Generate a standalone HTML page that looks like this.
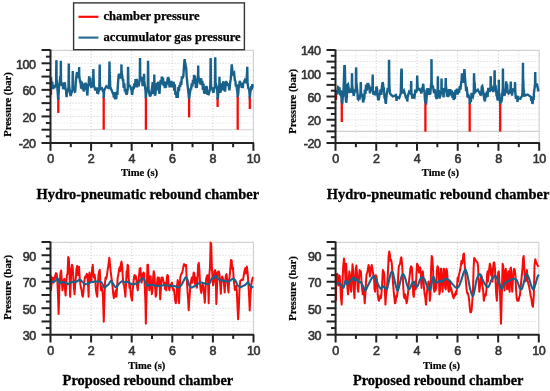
<!DOCTYPE html>
<html><head><meta charset="utf-8"><title>Pressure comparison</title>
<style>
html,body{margin:0;padding:0;background:#fff;}
body{width:550px;height:391px;overflow:hidden;}
svg{display:block;}
</style></head>
<body>
<svg width="550" height="391" viewBox="0 0 550 391">
<line x1="51.5" y1="136.36" x2="253.4" y2="136.36" stroke="#e4e4e4" stroke-width="1" stroke-dasharray="1.1 1.9"/>
<line x1="50.5" y1="129.71" x2="253.4" y2="129.71" stroke="#cfcfcf" stroke-width="1.1"/>
<line x1="51.5" y1="123.07" x2="253.4" y2="123.07" stroke="#e4e4e4" stroke-width="1" stroke-dasharray="1.1 1.9"/>
<line x1="51.5" y1="116.43" x2="253.4" y2="116.43" stroke="#d0d0d0" stroke-width="1" stroke-dasharray="1.1 1.9"/>
<line x1="51.5" y1="109.79" x2="253.4" y2="109.79" stroke="#e4e4e4" stroke-width="1" stroke-dasharray="1.1 1.9"/>
<line x1="51.5" y1="103.14" x2="253.4" y2="103.14" stroke="#d0d0d0" stroke-width="1" stroke-dasharray="1.1 1.9"/>
<line x1="51.5" y1="96.5" x2="253.4" y2="96.5" stroke="#e4e4e4" stroke-width="1" stroke-dasharray="1.1 1.9"/>
<line x1="51.5" y1="89.86" x2="253.4" y2="89.86" stroke="#d0d0d0" stroke-width="1" stroke-dasharray="1.1 1.9"/>
<line x1="51.5" y1="83.21" x2="253.4" y2="83.21" stroke="#e4e4e4" stroke-width="1" stroke-dasharray="1.1 1.9"/>
<line x1="51.5" y1="76.57" x2="253.4" y2="76.57" stroke="#d0d0d0" stroke-width="1" stroke-dasharray="1.1 1.9"/>
<line x1="51.5" y1="69.93" x2="253.4" y2="69.93" stroke="#e4e4e4" stroke-width="1" stroke-dasharray="1.1 1.9"/>
<line x1="51.5" y1="63.29" x2="253.4" y2="63.29" stroke="#d0d0d0" stroke-width="1" stroke-dasharray="1.1 1.9"/>
<line x1="51.5" y1="56.64" x2="253.4" y2="56.64" stroke="#e4e4e4" stroke-width="1" stroke-dasharray="1.1 1.9"/>
<line x1="70.79" y1="51" x2="70.79" y2="143" stroke="#e4e4e4" stroke-width="1" stroke-dasharray="1.1 1.9"/>
<line x1="91.08" y1="51" x2="91.08" y2="143" stroke="#d0d0d0" stroke-width="1" stroke-dasharray="1.1 1.9"/>
<line x1="111.37" y1="51" x2="111.37" y2="143" stroke="#e4e4e4" stroke-width="1" stroke-dasharray="1.1 1.9"/>
<line x1="131.66" y1="51" x2="131.66" y2="143" stroke="#d0d0d0" stroke-width="1" stroke-dasharray="1.1 1.9"/>
<line x1="151.95" y1="51" x2="151.95" y2="143" stroke="#e4e4e4" stroke-width="1" stroke-dasharray="1.1 1.9"/>
<line x1="172.24" y1="51" x2="172.24" y2="143" stroke="#d0d0d0" stroke-width="1" stroke-dasharray="1.1 1.9"/>
<line x1="192.53" y1="51" x2="192.53" y2="143" stroke="#e4e4e4" stroke-width="1" stroke-dasharray="1.1 1.9"/>
<line x1="212.82" y1="51" x2="212.82" y2="143" stroke="#d0d0d0" stroke-width="1" stroke-dasharray="1.1 1.9"/>
<line x1="233.11" y1="51" x2="233.11" y2="143" stroke="#e4e4e4" stroke-width="1" stroke-dasharray="1.1 1.9"/>
<polyline points="50.5,50.3 253.4,50.3 253.4,143" fill="none" stroke="#d2d2d2" stroke-width="1.2"/>
<line x1="336.5" y1="137.19" x2="539.2" y2="137.19" stroke="#e4e4e4" stroke-width="1" stroke-dasharray="1.1 1.9"/>
<line x1="335.5" y1="131.38" x2="539.2" y2="131.38" stroke="#cfcfcf" stroke-width="1.1"/>
<line x1="336.5" y1="125.56" x2="539.2" y2="125.56" stroke="#e4e4e4" stroke-width="1" stroke-dasharray="1.1 1.9"/>
<line x1="336.5" y1="119.75" x2="539.2" y2="119.75" stroke="#d0d0d0" stroke-width="1" stroke-dasharray="1.1 1.9"/>
<line x1="336.5" y1="113.94" x2="539.2" y2="113.94" stroke="#e4e4e4" stroke-width="1" stroke-dasharray="1.1 1.9"/>
<line x1="336.5" y1="108.12" x2="539.2" y2="108.12" stroke="#d0d0d0" stroke-width="1" stroke-dasharray="1.1 1.9"/>
<line x1="336.5" y1="102.31" x2="539.2" y2="102.31" stroke="#e4e4e4" stroke-width="1" stroke-dasharray="1.1 1.9"/>
<line x1="336.5" y1="96.5" x2="539.2" y2="96.5" stroke="#d0d0d0" stroke-width="1" stroke-dasharray="1.1 1.9"/>
<line x1="336.5" y1="90.69" x2="539.2" y2="90.69" stroke="#e4e4e4" stroke-width="1" stroke-dasharray="1.1 1.9"/>
<line x1="336.5" y1="84.88" x2="539.2" y2="84.88" stroke="#d0d0d0" stroke-width="1" stroke-dasharray="1.1 1.9"/>
<line x1="336.5" y1="79.06" x2="539.2" y2="79.06" stroke="#e4e4e4" stroke-width="1" stroke-dasharray="1.1 1.9"/>
<line x1="336.5" y1="73.25" x2="539.2" y2="73.25" stroke="#d0d0d0" stroke-width="1" stroke-dasharray="1.1 1.9"/>
<line x1="336.5" y1="67.44" x2="539.2" y2="67.44" stroke="#e4e4e4" stroke-width="1" stroke-dasharray="1.1 1.9"/>
<line x1="336.5" y1="61.62" x2="539.2" y2="61.62" stroke="#d0d0d0" stroke-width="1" stroke-dasharray="1.1 1.9"/>
<line x1="336.5" y1="55.81" x2="539.2" y2="55.81" stroke="#e4e4e4" stroke-width="1" stroke-dasharray="1.1 1.9"/>
<line x1="355.87" y1="51" x2="355.87" y2="143" stroke="#e4e4e4" stroke-width="1" stroke-dasharray="1.1 1.9"/>
<line x1="376.24" y1="51" x2="376.24" y2="143" stroke="#d0d0d0" stroke-width="1" stroke-dasharray="1.1 1.9"/>
<line x1="396.61" y1="51" x2="396.61" y2="143" stroke="#e4e4e4" stroke-width="1" stroke-dasharray="1.1 1.9"/>
<line x1="416.98" y1="51" x2="416.98" y2="143" stroke="#d0d0d0" stroke-width="1" stroke-dasharray="1.1 1.9"/>
<line x1="437.35" y1="51" x2="437.35" y2="143" stroke="#e4e4e4" stroke-width="1" stroke-dasharray="1.1 1.9"/>
<line x1="457.72" y1="51" x2="457.72" y2="143" stroke="#d0d0d0" stroke-width="1" stroke-dasharray="1.1 1.9"/>
<line x1="478.09" y1="51" x2="478.09" y2="143" stroke="#e4e4e4" stroke-width="1" stroke-dasharray="1.1 1.9"/>
<line x1="498.46" y1="51" x2="498.46" y2="143" stroke="#d0d0d0" stroke-width="1" stroke-dasharray="1.1 1.9"/>
<line x1="518.83" y1="51" x2="518.83" y2="143" stroke="#e4e4e4" stroke-width="1" stroke-dasharray="1.1 1.9"/>
<polyline points="335.5,50.3 539.2,50.3 539.2,143" fill="none" stroke="#d2d2d2" stroke-width="1.2"/>
<line x1="51.5" y1="328.08" x2="253.5" y2="328.08" stroke="#e4e4e4" stroke-width="1" stroke-dasharray="1.1 1.9"/>
<line x1="51.5" y1="321.46" x2="253.5" y2="321.46" stroke="#d0d0d0" stroke-width="1" stroke-dasharray="1.1 1.9"/>
<line x1="51.5" y1="314.84" x2="253.5" y2="314.84" stroke="#e4e4e4" stroke-width="1" stroke-dasharray="1.1 1.9"/>
<line x1="51.5" y1="308.21" x2="253.5" y2="308.21" stroke="#d0d0d0" stroke-width="1" stroke-dasharray="1.1 1.9"/>
<line x1="51.5" y1="301.59" x2="253.5" y2="301.59" stroke="#e4e4e4" stroke-width="1" stroke-dasharray="1.1 1.9"/>
<line x1="51.5" y1="294.97" x2="253.5" y2="294.97" stroke="#d0d0d0" stroke-width="1" stroke-dasharray="1.1 1.9"/>
<line x1="51.5" y1="288.35" x2="253.5" y2="288.35" stroke="#e4e4e4" stroke-width="1" stroke-dasharray="1.1 1.9"/>
<line x1="51.5" y1="281.73" x2="253.5" y2="281.73" stroke="#d0d0d0" stroke-width="1" stroke-dasharray="1.1 1.9"/>
<line x1="51.5" y1="275.11" x2="253.5" y2="275.11" stroke="#e4e4e4" stroke-width="1" stroke-dasharray="1.1 1.9"/>
<line x1="51.5" y1="268.49" x2="253.5" y2="268.49" stroke="#d0d0d0" stroke-width="1" stroke-dasharray="1.1 1.9"/>
<line x1="51.5" y1="261.86" x2="253.5" y2="261.86" stroke="#e4e4e4" stroke-width="1" stroke-dasharray="1.1 1.9"/>
<line x1="51.5" y1="255.24" x2="253.5" y2="255.24" stroke="#d0d0d0" stroke-width="1" stroke-dasharray="1.1 1.9"/>
<line x1="51.5" y1="248.62" x2="253.5" y2="248.62" stroke="#e4e4e4" stroke-width="1" stroke-dasharray="1.1 1.9"/>
<line x1="70.8" y1="243" x2="70.8" y2="334.7" stroke="#e4e4e4" stroke-width="1" stroke-dasharray="1.1 1.9"/>
<line x1="91.1" y1="243" x2="91.1" y2="334.7" stroke="#d0d0d0" stroke-width="1" stroke-dasharray="1.1 1.9"/>
<line x1="111.4" y1="243" x2="111.4" y2="334.7" stroke="#e4e4e4" stroke-width="1" stroke-dasharray="1.1 1.9"/>
<line x1="131.7" y1="243" x2="131.7" y2="334.7" stroke="#d0d0d0" stroke-width="1" stroke-dasharray="1.1 1.9"/>
<line x1="152" y1="243" x2="152" y2="334.7" stroke="#e4e4e4" stroke-width="1" stroke-dasharray="1.1 1.9"/>
<line x1="172.3" y1="243" x2="172.3" y2="334.7" stroke="#d0d0d0" stroke-width="1" stroke-dasharray="1.1 1.9"/>
<line x1="192.6" y1="243" x2="192.6" y2="334.7" stroke="#e4e4e4" stroke-width="1" stroke-dasharray="1.1 1.9"/>
<line x1="212.9" y1="243" x2="212.9" y2="334.7" stroke="#d0d0d0" stroke-width="1" stroke-dasharray="1.1 1.9"/>
<line x1="233.2" y1="243" x2="233.2" y2="334.7" stroke="#e4e4e4" stroke-width="1" stroke-dasharray="1.1 1.9"/>
<polyline points="50.5,242.3 253.5,242.3 253.5,334.7" fill="none" stroke="#d2d2d2" stroke-width="1.2"/>
<line x1="336.6" y1="328.08" x2="538.8" y2="328.08" stroke="#e4e4e4" stroke-width="1" stroke-dasharray="1.1 1.9"/>
<line x1="336.6" y1="321.46" x2="538.8" y2="321.46" stroke="#d0d0d0" stroke-width="1" stroke-dasharray="1.1 1.9"/>
<line x1="336.6" y1="314.84" x2="538.8" y2="314.84" stroke="#e4e4e4" stroke-width="1" stroke-dasharray="1.1 1.9"/>
<line x1="336.6" y1="308.21" x2="538.8" y2="308.21" stroke="#d0d0d0" stroke-width="1" stroke-dasharray="1.1 1.9"/>
<line x1="336.6" y1="301.59" x2="538.8" y2="301.59" stroke="#e4e4e4" stroke-width="1" stroke-dasharray="1.1 1.9"/>
<line x1="336.6" y1="294.97" x2="538.8" y2="294.97" stroke="#d0d0d0" stroke-width="1" stroke-dasharray="1.1 1.9"/>
<line x1="336.6" y1="288.35" x2="538.8" y2="288.35" stroke="#e4e4e4" stroke-width="1" stroke-dasharray="1.1 1.9"/>
<line x1="336.6" y1="281.73" x2="538.8" y2="281.73" stroke="#d0d0d0" stroke-width="1" stroke-dasharray="1.1 1.9"/>
<line x1="336.6" y1="275.11" x2="538.8" y2="275.11" stroke="#e4e4e4" stroke-width="1" stroke-dasharray="1.1 1.9"/>
<line x1="336.6" y1="268.49" x2="538.8" y2="268.49" stroke="#d0d0d0" stroke-width="1" stroke-dasharray="1.1 1.9"/>
<line x1="336.6" y1="261.86" x2="538.8" y2="261.86" stroke="#e4e4e4" stroke-width="1" stroke-dasharray="1.1 1.9"/>
<line x1="336.6" y1="255.24" x2="538.8" y2="255.24" stroke="#d0d0d0" stroke-width="1" stroke-dasharray="1.1 1.9"/>
<line x1="336.6" y1="248.62" x2="538.8" y2="248.62" stroke="#e4e4e4" stroke-width="1" stroke-dasharray="1.1 1.9"/>
<line x1="355.92" y1="243" x2="355.92" y2="334.7" stroke="#e4e4e4" stroke-width="1" stroke-dasharray="1.1 1.9"/>
<line x1="376.24" y1="243" x2="376.24" y2="334.7" stroke="#d0d0d0" stroke-width="1" stroke-dasharray="1.1 1.9"/>
<line x1="396.56" y1="243" x2="396.56" y2="334.7" stroke="#e4e4e4" stroke-width="1" stroke-dasharray="1.1 1.9"/>
<line x1="416.88" y1="243" x2="416.88" y2="334.7" stroke="#d0d0d0" stroke-width="1" stroke-dasharray="1.1 1.9"/>
<line x1="437.2" y1="243" x2="437.2" y2="334.7" stroke="#e4e4e4" stroke-width="1" stroke-dasharray="1.1 1.9"/>
<line x1="457.52" y1="243" x2="457.52" y2="334.7" stroke="#d0d0d0" stroke-width="1" stroke-dasharray="1.1 1.9"/>
<line x1="477.84" y1="243" x2="477.84" y2="334.7" stroke="#e4e4e4" stroke-width="1" stroke-dasharray="1.1 1.9"/>
<line x1="498.16" y1="243" x2="498.16" y2="334.7" stroke="#d0d0d0" stroke-width="1" stroke-dasharray="1.1 1.9"/>
<line x1="518.48" y1="243" x2="518.48" y2="334.7" stroke="#e4e4e4" stroke-width="1" stroke-dasharray="1.1 1.9"/>
<polyline points="335.6,242.3 538.8,242.3 538.8,334.7" fill="none" stroke="#d2d2d2" stroke-width="1.2"/>
<g fill="none" stroke-linejoin="round" stroke-linecap="butt">
<g stroke="#f60b0b" stroke-width="2.3"><line x1="51" y1="84" x2="51" y2="95"/><line x1="58.3" y1="98" x2="58.3" y2="112.9"/><line x1="103.7" y1="97" x2="103.7" y2="129.7"/><line x1="145.9" y1="97" x2="145.9" y2="129.7"/><line x1="189.1" y1="97" x2="189.1" y2="117.4"/><line x1="217.6" y1="97" x2="217.6" y2="107"/><line x1="237.7" y1="96" x2="237.7" y2="129.7"/><line x1="249.8" y1="96" x2="249.8" y2="109"/></g>
<polyline points="50.73,78.01 51,85 51.01,77.27 51.3,81.47 51.65,84.86 51.99,84.34 52.34,81.75 52.68,86.07 53.14,88.95 53.6,86.07 54.78,86.92 55.95,84.34 56.09,83.77 56.18,78.01 56.27,68.81 56.36,60.18 56.46,61.9 56.55,78.01 57.75,92.97 58.21,99.88 58.3,99 58.67,92.97 59.13,84.92 59.59,83.77 60.14,77.78 60.69,78.01 60.78,66.51 60.85,60.75 60.92,66.51 61.01,81.47 61.62,85.79 62.23,84.92 62.52,82.67 62.81,83.77 63.1,89.09 63.38,88.37 63.67,84.75 63.96,84.34 64.25,86.57 64.54,83.19 64.82,82.35 65.11,84.92 65.4,88.99 65.69,89.52 65.97,88.48 66.26,92.97 66.55,97.24 66.84,93.55 68.52,87.22 68.63,78.01 68.72,66.51 68.79,63.63 68.86,66.51 68.95,83.77 70.17,94.13 70.63,95.85 72.48,89.52 72.59,81.47 72.71,74.56 72.82,71.11 72.91,75.71 73.03,84.92 73.12,89.52 74.01,88.8 74.89,91.82 75.18,91.69 75.47,87.22 76.16,78.01 76.73,73.41 77.19,72.26 77.77,78.01 78.99,73.41 79.08,68.81 79.15,67.08 79.24,75.71 80.19,82.62 80.47,80.39 80.76,84.92 81.11,88.69 81.45,83.77 81.8,81.69 82.14,86.07 82.54,89.34 82.95,87.22 83.23,83.94 83.52,89.52 83.59,90.29 83.88,91.35 84.18,89.12 84.47,83.28 84.76,85.59 85.06,87.37 85.35,84.41 85.65,82.77 85.94,85 86.24,88.91 86.53,89.12 86.82,89.05 87.12,93.82 87.41,95.42 87.71,89.12 88,84.72 88.29,84.41 88.59,85.89 88.88,80.88 89.18,76.29 89.47,78.53 89.76,81.73 90.06,79.71 90.35,77.74 90.65,82.06 90.94,86.69 91.24,87.94 92.14,85.09 93.05,85.59 93.16,82.06 93.26,75 93.35,69.12 93.45,71.47 93.54,76.18 93.64,78.53 93.75,82.06 93.87,85.59 95.2,89.47 96.53,89.12 96.82,87.34 97.12,92.65 98.21,93.08 99.31,87.94 99.42,83.24 99.56,73.82 99.71,64.41 99.78,69.12 99.85,78.53 99.94,83.24 100.04,85.59 100.13,86.18 100.25,86.76 100.36,89.12 101.98,88.44 103.59,92.65 103.7,98 103.88,94.73 104.18,90.29 106.35,86.26 108.53,87.94 108.65,87.94 108.76,87.94 108.88,85.59 109,83.24 109.12,80.88 109.24,78.53 109.35,70.29 109.47,61.47 109.56,65.59 109.64,72.65 109.73,75 109.82,76.18 109.94,78.53 110.06,80.88 110.18,86.76 113.59,95 113.88,97.69 114.18,95.59 114.47,92 114.76,96.18 115.06,99.48 115.35,95.59 115.65,93.65 115.94,96.18 116.24,99.11 116.53,95.59 116.82,91.63 117.12,93.82 117.41,95.01 117.71,87.94 117.71,87.94 118.18,80.88 118.65,75 119.12,73.82 119.59,76.18 120.06,78.53 121.28,72.65 121.38,65.59 121.47,64.41 121.56,71.47 122.41,77.35 122.88,80.88 123.18,78.96 123.47,84.41 123.76,87.95 124.06,86.76 124.35,83.21 124.65,88.53 124.94,91.27 125.24,90.29 125.53,88.72 125.82,92.65 126.78,94.65 127.73,89.12 127.85,84.41 127.96,75 128.06,66.76 128.15,70.29 128.25,76.18 128.34,80.88 128.44,83.24 128.55,84.41 128.67,85.59 130.13,85.99 131.59,90.29 132.06,95 132.53,91.47 133,87.94 133.47,86.76 133.76,89.14 134.06,85.59 134.35,83.38 134.65,84.41 134.94,87.33 135.24,83.24 135.53,79.15 135.82,82.65 136.12,85.57 136.41,82.06 136.71,78.81 137,83.82 137.29,87.15 137.59,85.59 137.88,80.83 138.18,83.24 138.99,84.17 139.8,78.53 139.89,69.12 139.99,59.71 140.06,57.94 140.13,65.59 140.2,72.65 140.29,76.18 140.39,78.53 141.34,77.05 142.29,82.06 142.59,86.1 142.88,84.41 143.41,77.45 143.94,78.53 144.06,73.82 144.15,76.18 144.25,80.88 145.47,90.29 145.82,97.35 145.9,98 146.18,93.82 147.78,86.76 147.87,78.53 147.96,69.12 148.06,60.88 148.13,64.41 148.22,72.65 148.34,80.88 148.44,87.94 148.55,89.71 148.67,90.29 149.95,96.39 151.24,93.82 152.46,84.41 152.55,83.24 152.65,82.06 152.74,87.94 153.11,87.96 153.47,93.82 154.22,82.06 154.29,74.41 154.36,78.53 154.46,90.29 154.96,95.55 155.47,93.82 155.94,87.94 156.41,83.24 156.88,87.94 157.24,90.29 157.71,83.24 158.18,82.06 158.65,83.82 159.12,90.29 159.47,93.82 159.94,86.76 160.41,82.06 160.71,79.79 161,80.88 161.29,84.19 161.59,80.29 161.88,76.68 162.18,79.94 162.47,84.3 162.76,79.71 163.06,77.5 163.35,83.24 163.65,85.88 163.94,83.82 164.24,81.46 164.53,84.41 164.82,88.04 165.12,84.65 165.41,83.26 165.71,85 166,87.59 166.29,84.41 166.59,81.82 166.88,83.24 167.18,83.32 167.47,79.71 168.06,77.35 168.65,78.53 168.94,79.21 169.24,83.24 169.53,87.51 169.82,84.18 170.12,82.41 170.41,84.41 170.71,86.36 171,83.82 171.29,80.86 171.59,83.24 171.88,87.35 172.18,83.24 172.47,81.61 172.76,83.47 173.06,86.79 173.35,84.41 173.65,81.85 173.94,85.59 174.24,90.62 174.53,87.35 174.82,84.28 175.12,89.12 175.41,94.97 175.71,92.65 176,91.49 176.29,95 176.59,97.86 176.88,95.24 177.18,92.54 177.47,95 177.76,97.98 178.06,92.65 178.35,87.1 178.65,90.29 178.94,91.07 179.24,87.94 179.53,84.74 179.82,85.59 180.12,87.2 180.41,84.41 180.71,81.62 181,83.24 181.29,85.01 181.59,80.88 181.88,76.44 182.18,78.53 182.76,77.35 183.35,76.18 183.82,69.12 184.29,62.06 184.65,59.12 185,62.06 185.35,66.76 185.35,63.24 185.71,66.18 186.18,67.71 186.65,76.18 187.12,80.88 187.59,85.59 188.06,89.12 188.53,93.82 189,97.94 189.1,98 189.47,96.18 189.94,92.65 190.41,90.29 190.88,87.94 191.18,89.05 191.47,85.59 191.76,83.49 192.06,84.41 192.35,86.58 192.65,83.24 192.94,79.75 193.24,81.47 193.53,83.79 193.82,79.71 194.12,74.76 194.41,78.53 195,77.94 195.59,82.06 195.88,87.98 196.18,86.76 196.47,84.31 196.76,87.94 197.24,83.24 198.08,73.82 198.18,65.59 198.25,69.12 198.32,76.18 199.35,80.88 199.82,82.06 200.29,81.47 200.59,84.53 200.88,80.88 201.18,78.24 201.47,82.65 201.76,85.19 202.06,84.41 202.35,80.8 202.65,85.59 202.94,90.02 203.24,86.76 203.53,83.52 203.82,88.53 204.12,93.31 204.41,90.29 204.71,89.38 205,93.82 205.47,90.29 205.94,87.94 206.41,86.18 206.88,87.94 207.35,93.82 208.72,94.17 210.08,89.12 210.18,85.59 210.27,85 210.36,83.24 210.46,78.53 210.55,66.76 210.65,57.94 210.74,64.41 210.84,73.82 210.93,82.06 211.02,87.94 212.01,87.9 213,91.47 213.35,92.65 214.95,85.59 215.05,76.18 215.14,64.41 215.24,57.35 215.33,64.41 215.42,72.65 215.52,82.06 217.12,89.12 217.59,97.35 217.6,98 217.94,97.94 218.41,91.47 219.35,84.41 219.45,78.53 219.47,76.79 219.57,82.09 219.66,87.98 220.27,92.56 220.88,90.34 221.36,85.62 221.83,83.27 222.3,90.34 222.77,85.62 223.24,81.5 223.71,82.68 224.18,85.62 224.65,90.34 225.01,91.51 225.48,86.8 225.95,83.27 226.24,80.99 226.54,82.09 227.01,83.27 227.48,84.45 227.78,85.85 228.07,83.86 228.54,84.45 229.01,87.98 229.37,90.34 229.84,85.62 230.31,81.5 230.78,79.15 231.25,72.67 231.72,64.42 232.07,67.96 232.55,72.67 233.02,73.85 233.49,73.26 234.08,72.67 234.55,77.38 235.02,80.91 235.31,80.26 235.61,83.86 235.9,86.73 236.2,85.62 236.49,84.28 236.79,87.98 237.26,90.34 237.7,97 237.73,96.22 238.08,95.05 238.55,89.16 239.02,84.45 239.32,84.93 239.61,82.09 239.91,80.88 240.2,82.68 240.5,85.22 240.79,83.86 241.08,82.94 241.38,85.62 241.67,87.92 241.97,85.04 242.26,83.16 242.56,84.45 242.85,88.27 243.15,83.86 244.85,80.22 246.56,83.27 246.68,79.73 246.8,76.2 246.92,74.43 247.03,72.67 247.15,70.31 247.27,66.78 247.36,72.67 247.46,78.56 247.55,83.27 248.35,88.16 249.15,89.16 249.62,95.05 249.8,97 249.98,96.81 250.45,91.51 250.92,89.16 251.21,86.02 251.51,87.39 251.8,89.64 252.1,86.8 252.39,84.09 252.69,86.57 253.16,86.21" stroke="#18618a" stroke-width="2.4" stroke-linejoin="miter" stroke-miterlimit="2.5"/>
<g stroke="#f60b0b" stroke-width="2.3"><line x1="336" y1="92" x2="336" y2="100"/><line x1="341.8" y1="100" x2="341.8" y2="122"/><line x1="425.4" y1="102" x2="425.4" y2="131.6"/><line x1="469.7" y1="103" x2="469.7" y2="131.6"/><line x1="500.2" y1="103" x2="500.2" y2="131.6"/></g>
<polyline points="336,93 336.12,93.29 336.53,90.11 336.94,92.71 337.35,94.44 337.76,90.94 338.12,87.38 338.47,87.65 338.82,92.33 339.18,88.82 339.53,88.66 339.88,91.53 340.24,95.42 340.59,93.29 340.94,90.28 341.29,95.65 341.76,101.53 341.8,101 342.24,103.88 342.82,96.82 343.12,96.21 343.41,92.12 343.88,81.53 344.35,66.24 344.82,66.24 345.18,81.53 345.65,96.82 346.12,102.71 346.59,100.35 347.06,92.12 347.53,85.06 348,84.47 348.47,86.82 348.94,89.76 349.41,92.12 349.88,92.71 350.18,88.66 350.47,90.94 351.14,92.53 351.81,87.41 351.91,79.18 352,73.29 352.09,74.47 352.16,85.06 353.29,93.29 353.76,95.65 354.24,93.29 355.04,90.49 355.84,90.94 355.93,85.06 356.02,72.12 356.12,67.41 356.21,68.59 356.31,81.53 357.53,93.29 357.82,98.87 358.12,99.18 358.41,94.98 358.71,98 359.61,98.5 360.52,93.29 360.64,86.24 360.73,82.71 360.82,82.12 360.92,85.06 361.01,90.94 361.11,95.65 361.96,93.74 362.82,99.18 363.12,102.32 363.41,101.53 363.71,98.14 364,99.18 364.29,98.66 364.59,94.47 364.88,89.69 365.18,90.94 365.47,94.04 365.76,88.59 366.12,84.73 366.47,87.41 366.82,90.65 367.18,86.24 367.65,83 368.12,85.06 368.24,82.71 368.59,88.8 368.94,87.41 369.29,87.08 369.65,90.35 370,93.31 370.35,91.53 371.36,87.12 372.38,89.76 372.52,83.88 372.61,78 372.71,74.47 372.8,81.53 372.89,89.76 373.51,94.91 374.12,92.71 374.59,93.29 374.94,91.12 375.29,94.47 375.65,95.06 376,92.12 376.35,87.46 376.71,87.41 377.18,89.76 377.65,95.65 378.12,99.18 378.59,100.35 379.06,98 379.53,93.29 379.88,94.54 380.24,91.53 380.59,89.48 380.94,92.12 381.29,94.87 381.65,89.76 382.12,85.06 382.59,82.12 383.06,83.88 383.53,89.76 383.88,89.43 384.24,93.29 384.59,98.63 384.94,95.65 385.41,101.53 385.88,103.88 386.35,96.82 387.48,89.74 388.61,90.94 388.75,88 388.89,81.53 388.99,65.06 389.06,59.76 389.13,67.41 389.22,75.65 389.32,80.35 389.41,85.06 389.51,87.41 389.65,89.76 389.79,91.53 389.93,92.71 390.07,93.29 390.21,93.88 392.87,96.43 395.53,95.65 395.88,93.89 396.24,97.41 396.53,100.98 396.82,98.59 397.12,96.43 397.41,97.41 399.12,98.13 400.82,93.29 400.94,87.41 401.06,81.53 401.15,73.29 401.29,72.12 401.44,69.76 401.53,68.59 401.65,69.76 401.79,70.94 401.81,87.41 401.93,89.18 402.07,90.35 402.21,93.29 403.93,90.55 405.65,96.24 406,98.66 406.35,97.41 406.71,95.59 407.06,100.35 407.35,100.45 407.65,96.82 409.12,91.82 410.59,93.29 410.71,90.94 410.82,90.35 410.94,89.76 411.06,86.24 411.18,80.94 411.27,85.06 411.36,90.94 411.48,93.29 412.45,98.66 413.41,95.65 413.76,94.13 414.12,96.82 414.47,97.17 414.82,94.47 415.18,91.25 415.53,91.53 416.26,92.59 416.99,87.41 417.08,79.18 417.18,75.65 417.27,78 417.36,81.53 417.51,85.06 417.65,86.82 417.79,89.76 419.36,89.09 420.94,91.53 421.29,93.58 421.65,92.12 422,87.36 422.35,88.59 422.65,91.38 422.94,85.65 423.24,83.77 423.53,87.41 423.82,91.58 424.12,90.35 424.41,89.58 424.71,95.65 425,100.37 425.29,101.53 425.4,103 425.59,98.88 425.88,102.71 426.18,102.96 426.47,99.18 427.06,92.12 427.41,88.2 427.76,90.94 428.12,95.02 428.47,90.35 428.82,88.4 429.18,89.76 429.47,94.69 429.76,93.29 430.24,94.47 431.36,81.53 431.46,60.35 431.53,59.18 431.6,69.76 431.69,81.53 431.81,87.41 432.73,85.56 433.65,90.35 434,93.18 434.35,92.12 434.65,89.52 434.94,91.53 434.94,89.76 435.41,93.29 435.88,96.82 436.73,98.96 437.58,92.12 437.69,87.41 437.79,79.18 437.88,76.24 437.98,81.53 438.07,92.12 438.68,89.98 439.29,96.82 439.65,98.59 440.12,93.29 440.73,93.98 441.34,90.94 441.44,85.06 441.53,78.59 441.62,81.53 441.72,90.94 442.45,88.21 443.18,92.71 443.53,97.35 443.88,93.29 444.71,88.73 445.53,88.59 445.67,80.35 445.76,78 445.86,85.06 446.71,92.12 447,96.63 447.29,94.47 447.59,93.43 447.88,95.65 448.24,97.07 448.59,93.29 448.94,89.18 449.29,92.12 449.65,95.68 450,92.71 450.35,89.18 450.71,93.29 451.06,94.76 451.41,92.71 451.76,90.46 452.12,93.29 452.47,97.97 452.82,94.47 453.12,92.1 453.41,96.24 453.71,99.97 454,98 454.29,94.12 454.59,95.65 454.88,98.93 455.18,93.29 455.53,89.78 455.88,92.71 456.24,94.26 456.59,92.71 456.94,88.51 457.29,92.12 457.65,94.6 458,92.12 458.35,89.02 458.71,91.53 459.06,92.79 459.41,89.76 459.76,86.05 460.12,88 460.47,89.59 460.82,86.24 461.18,82.12 461.53,81.53 462,73.29 462.47,78 462.94,82.71 464.16,75.65 464.26,70.94 464.35,69.18 464.45,69.76 465.29,81.53 465.76,86.24 466.12,91.09 466.47,89.18 466.82,88.84 467.18,92.12 467.53,97.44 467.88,95.06 468.24,94.95 468.59,98 468.65,95.65 469.12,97.41 469.59,98.59 469.7,104 470.06,99.18 470.53,98.59 470.88,102.14 471.24,98 471.59,92.9 471.94,95.65 472.86,96.87 473.78,92.12 473.87,86.24 473.96,78 474.06,73.29 474.15,75.65 474.25,80.35 474.34,81.53 474.48,82.12 474.62,83.29 474.76,85.06 474.91,87.41 475.05,89.18 475.19,92.12 477.8,89.67 480.41,94.47 480.88,95.65 481.35,92.12 481.82,86.82 482.29,86.24 482.76,88.59 483.24,92.12 483.71,95.65 484.18,98.59 484.65,100.35 484.94,101.42 485.24,98 485.53,93.11 485.82,95.65 486.18,97.54 486.53,93.88 486.88,91.4 487.24,93.29 487.59,96.8 487.94,91.53 488.29,87.94 488.65,89.76 489.56,91.8 490.48,88.59 490.58,83.88 490.67,76.82 490.76,76.24 490.86,83.88 491.71,90.94 492,86.27 492.29,89.76 493.29,91.78 494.29,88.59 494.44,81.53 494.55,72.12 494.65,70.35 494.74,75.65 494.84,86.24 495.51,85.09 496.18,90.94 496.47,95.31 496.76,95.65 497.06,93.09 497.35,98.59 497.82,100.35 498.67,90.94 498.76,79.76 498.86,83.88 498.95,92.12 499.07,96.82 499.92,100.86 500.2,104 500.76,100.35 501.24,102.71 501.53,99.88 501.77,93.34 501.82,100.35 502.29,94.82 502.8,87.45 502.87,75.67 502.94,68.6 503.02,75.67 503.11,85.09 503.2,88.62 504.71,95.69 505.01,91.32 505.3,90.98 505.59,92.96 505.89,86.27 506.18,81.22 506.48,85.09 506.77,87.82 507.07,83.91 507.54,90.98 508.01,93.34 508.36,91.8 508.72,93.34 509.63,92.66 510.55,88.62 510.67,83.91 510.84,81.56 510.93,88.62 511.35,88.85 511.78,93.34 512.07,95.71 512.37,92.75 513.51,88.53 514.65,90.98 514.79,88.62 514.91,86.27 515.08,82.15 515.17,87.45 515.27,92.16 515.94,98.91 516.61,96.87 516.9,95.48 517.2,99.22 517.49,101.74 517.79,100.4 518.08,96.04 518.37,98.05 520.28,98.78 522.19,95.69 522.33,93.92 522.47,92.16 522.61,87.45 522.76,81.56 522.9,69.78 522.97,62.71 523.04,72.13 523.13,79.2 523.23,80.38 523.35,81.56 523.46,86.27 523.58,89.8 523.7,89.8 523.84,90.39 523.98,92.16 524.12,93.34 524.26,94.51 524.41,95.69 527.63,94.52 530.86,96.87 531.21,100.92 531.57,98.64 531.86,96.52 532.16,101.58 532.45,103.87 532.74,102.76 533.04,98.14 533.33,99.22 533.63,99.89 533.92,93.34 535.05,83.91 535.15,74.49 535.22,72.13 535.29,76.85 535.38,81.56 535.5,85.09 535.62,86.86 536.71,83.65 537.81,88.04 538.1,91.27 538.4,89.21" stroke="#18618a" stroke-width="2.4" stroke-linejoin="miter" stroke-miterlimit="2.5"/>
<polyline points="50.53,275.02 50.92,290.36 51.56,283.97 52.2,277.58 52.84,278.85 53.48,282.69 54.12,277.58 54.75,278.85 55.39,275.02 56.03,273.1 56.67,273.74 57.31,280.13 57.95,294.2 58.21,300.59 58.59,314.02 58.97,303.15 59.23,290.36 59.87,280.13 60.51,272.46 61.15,270.54 61.79,280.13 62.43,290.36 63.07,285.25 63.71,280.13 64.35,278.85 64.98,289.08 65.62,295.48 66.26,283.97 66.9,275.02 67.54,273.74 68.18,257.12 68.82,258.39 69.46,271.18 70.1,296.76 70.74,283.97 71.38,268.62 72.02,264.79 72.66,267.35 73.3,277.58 73.94,287.81 74.58,294.2 75.21,283.97 75.85,277.58 76.49,268.62 77.13,266.07 77.77,275.02 78.41,268.62 79.05,266.71 79.69,277.58 80.33,283.97 80.97,287.81 81.61,290.36 82.25,295.48 82.89,296.76 83.53,290.36 84.17,283.97 84.81,277.58 85.45,276.3 86.08,277.58 86.72,273.74 87.36,275.02 88,283.97 88.64,296.76 88.92,277.58 89.56,272.46 90.2,281.41 90.84,275.02 91.48,280.13 92.12,268.62 92.75,264.79 93.39,273.74 94.03,277.58 94.67,275.02 95.31,280.13 95.95,290.36 96.59,294.2 97.23,296.76 97.87,283.97 98.51,275.02 99.15,271.18 99.79,269.9 100.43,283.97 101.07,290.36 101.71,286.53 102.35,290.36 102.98,296.76 103.37,309.54 103.75,321.69 104.14,309.54 104.9,283.97 105.54,277.58 106.18,278.85 106.82,276.3 107.46,271.18 108.1,267.35 108.74,262.23 109.38,257.75 110.02,264.79 110.66,271.18 111.3,276.3 111.94,281.41 112.58,286.53 113.21,294.2 113.85,298.04 114.49,296.76 115.13,292.92 115.77,290.36 116.41,296.76 117.05,287.81 117.69,277.58 118.33,275.02 118.97,269.9 119.61,267.35 120.25,271.18 120.89,263.51 121.53,261.59 122.17,266.07 122.81,277.58 123.45,283.97 124.08,285.25 124.72,290.36 125.36,296.76 126,283.97 126.64,271.18 126.92,277.58 127.56,264.79 128.2,266.07 128.84,280.13 129.48,287.81 130.12,283.97 130.75,294.2 131.39,298.04 132.03,300.59 132.67,290.36 133.31,283.97 133.95,277.58 134.59,275.02 135.23,278.85 135.87,276.3 136.51,280.13 137.15,286.53 137.79,290.36 138.43,282.69 139.07,275.02 139.71,268.62 140.35,267.98 140.98,275.02 141.62,282.69 142.26,277.58 142.9,273.74 143.54,272.46 144.18,273.74 144.82,287.81 145.46,303.15 145.84,323.61 146.23,305.71 146.74,290.36 147.38,264.79 148.02,264.79 148.66,277.58 149.3,290.36 149.94,281.41 150.58,276.3 151.21,283.97 151.85,294.2 152.49,290.36 153.13,277.58 153.77,271.18 154.41,275.02 155.05,285.25 155.69,296.76 156.33,294.2 156.97,283.97 157.61,277.58 158.25,283.97 158.89,277.58 159.53,281.41 160.17,299.31 160.81,290.36 161.45,277.58 162.08,280.13 162.72,277.58 163.36,281.41 164,283.97 164.64,282.69 164.92,289.08 165.56,283.97 166.2,290.36 166.84,277.58 167.48,275.02 168.12,276.3 168.75,287.81 169.39,290.36 170.03,285.25 170.67,286.53 171.31,283.97 171.95,282.69 172.59,287.81 173.23,290.36 173.87,289.08 174.51,294.2 175.15,300.59 175.79,303.15 176.43,300.59 177.07,285.25 177.71,280.13 178.35,282.69 178.98,303.15 179.62,290.36 180.26,277.58 180.9,275.02 181.54,273.74 182.18,272.46 182.82,269.9 183.46,266.07 184.1,264.15 184.74,264.79 185.38,266.07 186.02,264.79 186.66,277.58 187.3,287.81 187.94,296.76 188.32,303.15 188.7,310.18 189.09,303.15 189.85,292.92 190.49,283.97 191.13,280.13 191.77,277.58 192.41,282.69 193.05,277.58 193.69,272.46 194.33,273.74 194.97,283.97 195.61,277.58 196.25,285.25 196.89,287.81 197.53,277.58 198.17,264.79 198.81,262.87 199.45,271.18 200.08,283.97 200.72,290.36 201.36,292.92 202,287.81 202.64,283.97 203.6,287.3 204.8,302.7 206.1,279 206.8,276.5 207.4,275.2 208,280.4 208.7,303.3 209.3,275.2 210,267.6 210.6,242.5 211.2,244.6 211.9,267.6 212.5,277.8 213.1,285.5 213.8,282 214.4,271.4 215.1,270.1 215.7,272.7 216.3,304 217,288 217.6,272.7 218.3,271.4 218.9,271.4 219.5,275.2 220.2,284.2 220.8,293.7 221.5,280.4 222.1,276.5 222.7,277.8 223.4,280.4 224,284.2 224.7,292.5 225.3,280.4 225.9,275.2 226.6,274 227.2,280.4 227.9,286.8 228.5,292.5 229.1,280.4 229.8,275.2 230.4,267.6 231,260 231.7,260.6 232.3,268.9 233,267.6 233.6,277.8 234.2,284.2 234.9,290 235.5,289 236.2,286 236.8,291 237.4,303.9 238.1,319.3 238.7,310.4 239.4,291.2 240.2,281 240.8,280.4 241.5,279.6 242.3,280.1 243.1,279.6 243.8,275 244.6,270.4 245.4,268.1 246.2,273.5 246.9,266.5 247.7,273.5 248.5,285.8 249.2,298 249.7,310.4 250.3,298 251.1,285.8 251.8,281.2 252.6,278 253.4,277.3" stroke="#f60b0b" stroke-width="2.0"/>
<path d="M50.7,281.3 C51.18,281.4 52.73,282.08 53.6,281.9 C54.47,281.72 55.23,280.78 55.9,280.2 C56.57,279.62 57.02,277.93 57.6,278.4 C58.18,278.87 58.72,282.42 59.4,283 C60.08,283.58 60.93,281.98 61.7,281.9 C62.47,281.82 63.23,282.32 64,282.5 C64.77,282.68 65.63,282.72 66.3,283 C66.97,283.28 67.33,284.28 68,284.2 C68.67,284.12 69.53,282.88 70.3,282.5 C71.07,282.12 71.83,282 72.6,281.9 C73.37,281.8 74.13,282 74.9,281.9 C75.67,281.8 76.43,281.68 77.2,281.3 C77.97,280.92 78.82,279.7 79.5,279.6 C80.18,279.5 80.62,280.13 81.3,280.7 C81.98,281.27 82.83,282.42 83.6,283 C84.37,283.58 85.13,284.1 85.9,284.2 C86.67,284.3 87.43,283.88 88.2,283.6 C88.97,283.32 89.73,282.78 90.5,282.5 C91.27,282.22 92.03,282.1 92.8,281.9 C93.57,281.7 94.33,281.3 95.1,281.3 C95.87,281.3 96.63,281.9 97.4,281.9 C98.17,281.9 98.93,281.12 99.7,281.3 C100.47,281.48 101.23,281.95 102,283 C102.77,284.05 103.53,287.12 104.3,287.6 C105.07,288.08 105.87,286.47 106.6,285.9 C107.33,285.33 107.97,285.07 108.7,284.2 C109.43,283.33 110.23,280.7 111,280.7 C111.77,280.7 112.53,283.13 113.3,284.2 C114.07,285.27 114.83,286.92 115.6,287.1 C116.37,287.28 117.13,286.07 117.9,285.3 C118.67,284.53 119.42,283.17 120.2,282.5 C120.98,281.83 121.82,281.3 122.6,281.3 C123.38,281.3 124.13,282.4 124.9,282.5 C125.67,282.6 126.43,281.82 127.2,281.9 C127.97,281.98 128.73,282.62 129.5,283 C130.27,283.38 131.03,284 131.8,284.2 C132.57,284.4 133.33,284.3 134.1,284.2 C134.87,284.1 135.63,283.88 136.4,283.6 C137.17,283.32 138.03,283.07 138.7,282.5 C139.37,281.93 139.83,280.88 140.4,280.2 C140.97,279.52 141.52,278.6 142.1,278.4 C142.68,278.2 143.32,278.23 143.9,279 C144.48,279.77 145.03,281.85 145.6,283 C146.17,284.15 146.63,285.6 147.3,285.9 C147.97,286.2 148.83,284.98 149.6,284.8 C150.37,284.62 151.13,284.72 151.9,284.8 C152.67,284.88 153.43,285.12 154.2,285.3 C154.97,285.48 155.53,285.8 156.5,285.9 C157.47,286 158.83,286 160,285.9 C161.17,285.8 162.45,285.4 163.5,285.3 C164.55,285.2 165.18,285.2 166.3,285.3 C167.42,285.4 169.07,285.8 170.2,285.9 C171.33,286 172.15,285.8 173.1,285.9 C174.05,286 174.95,286.22 175.9,286.5 C176.85,286.78 177.93,287.8 178.8,287.6 C179.67,287.4 180.33,286.35 181.1,285.3 C181.87,284.25 182.63,282.63 183.4,281.3 C184.17,279.97 185.02,277.58 185.7,277.3 C186.38,277.02 186.92,278.27 187.5,279.6 C188.08,280.93 188.53,283.97 189.2,285.3 C189.87,286.63 190.73,287.4 191.5,287.6 C192.27,287.8 193.03,286.88 193.8,286.5 C194.57,286.12 195.33,285.78 196.1,285.3 C196.87,284.82 197.63,284.07 198.4,283.6 C199.17,283.13 199.93,282.6 200.7,282.5 C201.47,282.4 202.23,282.82 203,283 C203.77,283.18 204.53,283.4 205.3,283.6 C206.07,283.8 206.83,284.3 207.6,284.2 C208.37,284.1 209.22,283.97 209.9,283 C210.58,282.03 211.12,279.17 211.7,278.4 C212.28,277.63 212.82,278.88 213.4,278.4 C213.98,277.92 214.53,275.57 215.2,275.5 C215.87,275.43 216.65,277.25 217.4,278 C218.15,278.75 218.75,279.55 219.7,280 C220.65,280.45 221.97,280.48 223.1,280.7 C224.23,280.92 225.45,281.2 226.5,281.3 C227.55,281.4 228.43,281.68 229.4,281.3 C230.37,280.92 231.43,279.28 232.3,279 C233.17,278.72 233.93,279.03 234.6,279.6 C235.27,280.17 235.73,281.35 236.3,282.4 C236.87,283.45 237.33,285.13 238,285.9 C238.67,286.67 239.43,287 240.3,287 C241.17,287 242.33,286.28 243.2,285.9 C244.07,285.52 244.73,285.28 245.5,284.7 C246.27,284.12 247.13,282.4 247.8,282.4 C248.47,282.4 248.93,283.93 249.5,284.7 C250.07,285.47 250.55,286.62 251.2,287 C251.85,287.38 253.03,287 253.4,287" stroke="#18618a" stroke-width="2.1"/>
<polyline points="335.92,300.76 336.3,275.18 337.2,273.9 337.84,276.46 338.48,285.41 339.12,275.18 339.75,276.46 340.39,286.69 341.03,298.2 341.67,304.59 342.31,287.97 343.21,266.23 343.97,258.56 344.87,266.23 345.51,281.58 346.15,263.67 346.79,275.18 347.43,287.97 348.07,294.36 348.71,281.58 349.35,271.35 349.98,275.18 350.62,289.25 351.26,291.81 351.9,275.18 352.54,264.31 353.18,271.35 353.82,289.25 354.46,298.2 355.1,281.58 355.74,268.79 356.38,265.59 357.02,273.9 357.66,287.97 358.3,291.81 358.94,279.02 359.58,270.07 360.21,275.18 360.85,271.35 361.49,281.58 362.13,289.25 362.77,294.36 363.41,287.97 364.05,293.08 364.69,303.31 365.33,294.36 365.97,281.58 366.61,273.9 367.25,272.62 367.89,268.79 368.53,264.95 369.17,267.51 369.81,276.46 370.45,273.9 371.08,267.51 371.72,264.95 372.36,268.79 373,272.62 373.64,276.46 373.92,275.18 374.56,289.25 375.2,291.81 375.84,275.18 376.48,276.46 377.12,281.58 377.75,294.36 378.39,299.48 379.03,300.76 379.67,298.2 380.31,295.64 380.95,298.2 381.59,291.81 382.23,281.58 382.87,270.07 383.51,271.35 384.15,273.9 384.79,287.97 385.43,304.59 386.07,294.36 386.71,290.53 387.35,281.58 387.98,271.35 388.62,256 389.26,251.52 389.9,254.72 390.54,261.12 391.18,259.84 391.82,263.67 392.46,275.18 393.1,284.13 393.74,291.81 394.38,298.2 395.02,303.31 395.66,302.04 396.3,295.64 396.94,296.92 397.58,290.53 398.21,275.18 398.85,266.23 399.49,264.95 400.13,263.67 400.77,258.56 401.41,257.28 402.05,263.67 402.69,275.18 403.33,287.97 403.97,296.92 404.61,298.2 405.25,294.36 405.89,298.2 406.53,303.31 407.17,300.76 407.81,295.64 408.45,287.97 409.08,280.3 409.72,275.18 410.36,268.79 411,266.23 411.64,267.51 411.92,267.51 412.56,281.58 413.2,294.36 413.84,296.92 414.48,287.97 415.12,281.58 415.75,289.25 416.39,275.18 417.03,263.67 417.67,264.95 418.31,266.23 418.95,272.62 419.59,268.79 420.23,267.51 420.87,275.18 421.51,287.97 422.15,272.62 422.79,271.35 423.43,277.74 424.07,289.25 424.71,294.36 425.35,298.2 425.98,304.59 426.62,294.36 427.26,289.25 427.9,285.41 428.54,281.58 429.18,287.97 429.82,300.76 430.46,294.36 431.1,268.79 431.74,256 432.38,258.56 433.02,268.79 433.66,287.97 434.3,291.81 434.94,281.58 435.58,290.53 436.21,287.97 436.85,271.35 437.49,266.23 438.13,267.51 438.77,275.18 439.41,294.36 440.05,290.53 440.69,268.79 441.33,268.79 441.97,281.58 442.61,291.81 443.25,279.02 443.89,268.79 444.53,271.35 445.17,287.97 445.81,289.25 446.45,268.79 447.08,271.35 447.72,281.58 448.36,290.53 449,291.81 449.64,281.58 449.92,281.58 450.56,290.53 451.2,287.97 451.84,291.81 452.48,294.36 453.12,296.92 453.75,298.2 454.39,294.36 455.03,295.64 455.67,291.81 456.31,294.36 456.95,287.97 457.59,277.74 458.23,281.58 458.87,275.18 459.51,272.62 460.15,270.07 460.79,266.23 461.43,261.12 462.07,263.67 462.71,259.84 463.35,254.72 463.98,253.44 464.62,263.67 465.26,272.62 465.9,281.58 466.54,289.25 467.18,293.08 467.82,293.08 468.46,295.64 469.1,299.48 469.74,307.15 470.38,312.27 471.02,312.27 471.66,309.71 472.3,300.76 472.94,291.81 473.58,268.79 474.21,257.92 474.85,258.56 475.49,259.84 476.13,261.12 476.77,261.75 477.41,262.39 478.05,266.23 478.69,281.58 479.33,291.81 479.97,286.69 480.61,281.58 481.25,275.18 481.89,279.02 482.53,286.69 483.17,290.53 483.81,300.76 484.45,296.92 485.08,294.36 485.72,295.64 486.36,290.53 487,275.18 487.64,271.35 487.92,281.58 488.56,275.18 489.2,268.79 489.84,263.67 490.48,266.23 491.12,275.18 491.75,268.79 492.39,281.58 493.03,268.79 493.67,262.39 494.31,262.39 494.95,268.79 495.59,281.58 496.23,294.36 496.87,300.76 497.51,287.97 498.15,272.62 498.79,271.35 499.43,281.58 500.07,294.36 500.58,309.71 500.96,323.77 501.35,312.27 501.98,287.97 502.62,263.67 503.26,266.23 503.9,281.58 504.54,290.53 505.18,271.35 505.82,268.79 506.46,281.58 507.1,289.25 507.74,275.18 508.38,271.35 509.02,287.97 509.66,291.81 510.3,268.79 510.94,267.51 511.58,281.58 512.21,291.81 512.85,281.58 513.49,271.35 514.13,268.79 514.77,270.07 515.41,275.18 516.05,289.25 516.69,298.2 517.33,300.76 517.97,299.48 518.61,300.76 519.25,296.92 519.89,295.64 520.53,287.97 521.17,281.58 521.81,275.18 522.45,268.79 523.08,258.56 523.72,256 524.36,268.79 525,281.58 525.64,279.02 526.1,280.67 526.87,269.94 527.64,280.67 528.4,283.74 529.17,286.81 529.94,291.41 530.71,296.01 531.47,299.08 532.24,305.21 533.01,306.75 533.77,296.01 534.54,265.34 535.31,259.2 536.07,262.27 536.84,263.8 537.61,265.34 538.37,266.87" stroke="#f60b0b" stroke-width="2.0"/>
<path d="M335.9,285 C336.22,284.68 337.15,283.3 337.8,283.1 C338.45,282.9 339.15,283.37 339.8,283.8 C340.45,284.23 341.07,285.07 341.7,285.7 C342.33,286.33 342.97,288.45 343.6,287.6 C344.23,286.75 344.97,281.13 345.5,280.6 C346.03,280.07 346.27,284.08 346.8,284.4 C347.33,284.72 348.07,283.13 348.7,282.5 C349.33,281.87 349.97,281.23 350.6,280.6 C351.23,279.97 351.97,279.23 352.5,278.7 C353.03,278.17 353.37,277.08 353.8,277.4 C354.23,277.72 354.57,280.28 355.1,280.6 C355.63,280.92 356.37,279.08 357,279.3 C357.63,279.52 358.25,281.37 358.9,281.9 C359.55,282.43 360.25,281.87 360.9,282.5 C361.55,283.13 362.07,284.32 362.8,285.7 C363.53,287.08 364.57,290.58 365.3,290.8 C366.03,291.02 366.55,288.28 367.2,287 C367.85,285.72 368.55,284.38 369.2,283.1 C369.85,281.82 370.37,280.47 371.1,279.3 C371.83,278.13 372.85,276.2 373.6,276.1 C374.35,276 374.95,277.53 375.6,278.7 C376.25,279.87 376.87,281.72 377.5,283.1 C378.13,284.48 378.77,286.03 379.4,287 C380.03,287.97 380.67,289.02 381.3,288.9 C381.93,288.78 382.55,286.42 383.2,286.3 C383.85,286.18 384.55,287.77 385.2,288.2 C385.85,288.63 386.47,290.17 387.1,288.9 C387.73,287.63 388.37,283.27 389,280.6 C389.63,277.93 390.27,274.28 390.9,272.9 C391.53,271.52 392.32,271.67 392.8,272.3 C393.28,272.93 393.3,274.47 393.8,276.7 C394.3,278.93 395.15,283.35 395.8,285.7 C396.45,288.05 397.07,291.02 397.7,290.8 C398.33,290.58 398.97,286.75 399.6,284.4 C400.23,282.05 400.87,278.4 401.5,276.7 C402.13,275 402.77,273.87 403.4,274.2 C404.03,274.53 404.65,276.78 405.3,278.7 C405.95,280.62 406.65,283.9 407.3,285.7 C407.95,287.5 408.57,289.5 409.2,289.5 C409.83,289.5 410.47,286.97 411.1,285.7 C411.73,284.43 412.37,282.12 413,281.9 C413.63,281.68 414.25,283.55 414.9,284.4 C415.55,285.25 416.25,287.22 416.9,287 C417.55,286.78 418.17,284.6 418.8,283.1 C419.43,281.6 420.07,278.95 420.7,278 C421.33,277.05 421.97,277.18 422.6,277.4 C423.23,277.62 423.87,278.13 424.5,279.3 C425.13,280.47 425.75,282.8 426.4,284.4 C427.05,286 427.75,288.05 428.4,288.9 C429.05,289.75 429.67,290.88 430.3,289.5 C430.93,288.12 431.67,282.73 432.2,280.6 C432.73,278.47 432.97,276.48 433.5,276.7 C434.03,276.92 434.77,280.93 435.4,281.9 C436.03,282.87 436.67,282.72 437.3,282.5 C437.93,282.28 438.55,280.7 439.2,280.6 C439.85,280.5 440.45,282 441.2,281.9 C441.95,281.8 442.85,280.53 443.7,280 C444.55,279.47 445.32,278.6 446.3,278.7 C447.28,278.8 448.52,279.65 449.6,280.6 C450.68,281.55 451.73,283.23 452.8,284.4 C453.87,285.57 455.05,287.17 456,287.6 C456.95,288.03 457.65,288.17 458.5,287 C459.35,285.83 460.25,282.95 461.1,280.6 C461.95,278.25 462.87,274.72 463.6,272.9 C464.33,271.08 464.85,269.27 465.5,269.7 C466.15,270.13 466.75,272.42 467.5,275.5 C468.25,278.58 469.15,284.8 470,288.2 C470.85,291.6 471.85,295.47 472.6,295.9 C473.35,296.33 473.87,293.35 474.5,290.8 C475.13,288.25 475.77,283.15 476.4,280.6 C477.03,278.05 477.7,276.57 478.3,275.5 C478.9,274.43 479.35,273.67 480,274.2 C480.65,274.73 481.42,277.1 482.2,278.7 C482.98,280.3 483.85,282.42 484.7,283.8 C485.55,285.18 486.55,286.68 487.3,287 C488.05,287.32 488.57,286.77 489.2,285.7 C489.83,284.63 490.47,281.88 491.1,280.6 C491.73,279.32 492.35,278.85 493,278 C493.65,277.15 494.35,275.5 495,275.5 C495.65,275.5 496.27,276.83 496.9,278 C497.53,279.17 498.15,281 498.8,282.5 C499.45,284 500.27,285.93 500.8,287 C501.33,288.07 501.47,289.33 502,288.9 C502.53,288.47 503.25,285.57 504,284.4 C504.75,283.23 505.65,282.53 506.5,281.9 C507.35,281.27 508.25,281.03 509.1,280.6 C509.95,280.17 510.75,279.62 511.6,279.3 C512.45,278.98 513.45,278.7 514.2,278.7 C514.95,278.7 515.47,278.57 516.1,279.3 C516.73,280.03 517.37,281.62 518,283.1 C518.63,284.58 519.25,287.23 519.9,288.2 C520.55,289.17 521.25,289.85 521.9,288.9 C522.55,287.95 523.17,284.73 523.8,282.5 C524.43,280.27 525.17,276.88 525.7,275.5 C526.23,274.12 526.47,273.78 527,274.2 C527.53,274.62 528.27,276.3 528.9,278 C529.53,279.7 530.17,282.58 530.8,284.4 C531.43,286.22 532.17,288.15 532.7,288.9 C533.23,289.65 533.47,289.97 534,288.9 C534.53,287.83 535.27,284.63 535.9,282.5 C536.53,280.37 537.27,277.38 537.8,276.1 C538.33,274.82 538.88,275.02 539.1,274.8" stroke="#18618a" stroke-width="2.1"/>
</g>
<g stroke="#222" stroke-width="2"><line x1="41.5" y1="143" x2="50.5" y2="143"/><line x1="45.9" y1="136.36" x2="50.5" y2="136.36"/><line x1="41.5" y1="129.71" x2="50.5" y2="129.71"/><line x1="45.9" y1="123.07" x2="50.5" y2="123.07"/><line x1="41.5" y1="116.43" x2="50.5" y2="116.43"/><line x1="45.9" y1="109.79" x2="50.5" y2="109.79"/><line x1="41.5" y1="103.14" x2="50.5" y2="103.14"/><line x1="45.9" y1="96.5" x2="50.5" y2="96.5"/><line x1="41.5" y1="89.86" x2="50.5" y2="89.86"/><line x1="45.9" y1="83.21" x2="50.5" y2="83.21"/><line x1="41.5" y1="76.57" x2="50.5" y2="76.57"/><line x1="45.9" y1="69.93" x2="50.5" y2="69.93"/><line x1="41.5" y1="63.29" x2="50.5" y2="63.29"/><line x1="45.9" y1="56.64" x2="50.5" y2="56.64"/><line x1="41.5" y1="50" x2="50.5" y2="50"/><line x1="50.5" y1="143" x2="50.5" y2="150.8"/><line x1="70.79" y1="143" x2="70.79" y2="147.2"/><line x1="91.08" y1="143" x2="91.08" y2="150.8"/><line x1="111.37" y1="143" x2="111.37" y2="147.2"/><line x1="131.66" y1="143" x2="131.66" y2="150.8"/><line x1="151.95" y1="143" x2="151.95" y2="147.2"/><line x1="172.24" y1="143" x2="172.24" y2="150.8"/><line x1="192.53" y1="143" x2="192.53" y2="147.2"/><line x1="212.82" y1="143" x2="212.82" y2="150.8"/><line x1="233.11" y1="143" x2="233.11" y2="147.2"/><line x1="253.4" y1="143" x2="253.4" y2="150.8"/><line x1="50.5" y1="49.5" x2="50.5" y2="143"/><line x1="50.5" y1="143" x2="254" y2="143"/></g><g font-family="'Liberation Sans', sans-serif" font-size="12.5" letter-spacing="-0.4" fill="#333" stroke="#333" stroke-width="0.6"><text x="35.6" y="68.59" text-anchor="end">100</text><text x="35.6" y="95.16" text-anchor="end">60</text><text x="35.6" y="121.73" text-anchor="end">20</text><text x="35.6" y="148.3" text-anchor="end">-20</text><text x="50.5" y="163.1" text-anchor="middle">0</text><text x="91.08" y="163.1" text-anchor="middle">2</text><text x="131.66" y="163.1" text-anchor="middle">4</text><text x="172.24" y="163.1" text-anchor="middle">6</text><text x="212.82" y="163.1" text-anchor="middle">8</text><text x="253.4" y="163.1" text-anchor="middle">10</text></g>
<g stroke="#222" stroke-width="2"><line x1="326.5" y1="143" x2="335.5" y2="143"/><line x1="330.9" y1="137.19" x2="335.5" y2="137.19"/><line x1="326.5" y1="131.38" x2="335.5" y2="131.38"/><line x1="330.9" y1="125.56" x2="335.5" y2="125.56"/><line x1="326.5" y1="119.75" x2="335.5" y2="119.75"/><line x1="330.9" y1="113.94" x2="335.5" y2="113.94"/><line x1="326.5" y1="108.12" x2="335.5" y2="108.12"/><line x1="330.9" y1="102.31" x2="335.5" y2="102.31"/><line x1="326.5" y1="96.5" x2="335.5" y2="96.5"/><line x1="330.9" y1="90.69" x2="335.5" y2="90.69"/><line x1="326.5" y1="84.88" x2="335.5" y2="84.88"/><line x1="330.9" y1="79.06" x2="335.5" y2="79.06"/><line x1="326.5" y1="73.25" x2="335.5" y2="73.25"/><line x1="330.9" y1="67.44" x2="335.5" y2="67.44"/><line x1="326.5" y1="61.62" x2="335.5" y2="61.62"/><line x1="330.9" y1="55.81" x2="335.5" y2="55.81"/><line x1="326.5" y1="50" x2="335.5" y2="50"/><line x1="335.5" y1="143" x2="335.5" y2="150.8"/><line x1="355.87" y1="143" x2="355.87" y2="147.2"/><line x1="376.24" y1="143" x2="376.24" y2="150.8"/><line x1="396.61" y1="143" x2="396.61" y2="147.2"/><line x1="416.98" y1="143" x2="416.98" y2="150.8"/><line x1="437.35" y1="143" x2="437.35" y2="147.2"/><line x1="457.72" y1="143" x2="457.72" y2="150.8"/><line x1="478.09" y1="143" x2="478.09" y2="147.2"/><line x1="498.46" y1="143" x2="498.46" y2="150.8"/><line x1="518.83" y1="143" x2="518.83" y2="147.2"/><line x1="539.2" y1="143" x2="539.2" y2="150.8"/><line x1="335.5" y1="49.5" x2="335.5" y2="143"/><line x1="335.5" y1="143" x2="539.8" y2="143"/></g><g font-family="'Liberation Sans', sans-serif" font-size="12.5" letter-spacing="-0.4" fill="#333" stroke="#333" stroke-width="0.6"><text x="320.6" y="55.3" text-anchor="end">140</text><text x="320.6" y="78.55" text-anchor="end">100</text><text x="320.6" y="101.8" text-anchor="end">60</text><text x="320.6" y="125.05" text-anchor="end">20</text><text x="320.6" y="148.3" text-anchor="end">-20</text><text x="335.5" y="163.1" text-anchor="middle">0</text><text x="376.24" y="163.1" text-anchor="middle">2</text><text x="416.98" y="163.1" text-anchor="middle">4</text><text x="457.72" y="163.1" text-anchor="middle">6</text><text x="498.46" y="163.1" text-anchor="middle">8</text><text x="539.2" y="163.1" text-anchor="middle">10</text></g>
<g stroke="#222" stroke-width="2"><line x1="41.5" y1="334.7" x2="50.5" y2="334.7"/><line x1="45.9" y1="328.08" x2="50.5" y2="328.08"/><line x1="41.5" y1="321.46" x2="50.5" y2="321.46"/><line x1="45.9" y1="314.84" x2="50.5" y2="314.84"/><line x1="41.5" y1="308.21" x2="50.5" y2="308.21"/><line x1="45.9" y1="301.59" x2="50.5" y2="301.59"/><line x1="41.5" y1="294.97" x2="50.5" y2="294.97"/><line x1="45.9" y1="288.35" x2="50.5" y2="288.35"/><line x1="41.5" y1="281.73" x2="50.5" y2="281.73"/><line x1="45.9" y1="275.11" x2="50.5" y2="275.11"/><line x1="41.5" y1="268.49" x2="50.5" y2="268.49"/><line x1="45.9" y1="261.86" x2="50.5" y2="261.86"/><line x1="41.5" y1="255.24" x2="50.5" y2="255.24"/><line x1="45.9" y1="248.62" x2="50.5" y2="248.62"/><line x1="41.5" y1="242" x2="50.5" y2="242"/><line x1="50.5" y1="334.7" x2="50.5" y2="342.5"/><line x1="70.8" y1="334.7" x2="70.8" y2="338.9"/><line x1="91.1" y1="334.7" x2="91.1" y2="342.5"/><line x1="111.4" y1="334.7" x2="111.4" y2="338.9"/><line x1="131.7" y1="334.7" x2="131.7" y2="342.5"/><line x1="152" y1="334.7" x2="152" y2="338.9"/><line x1="172.3" y1="334.7" x2="172.3" y2="342.5"/><line x1="192.6" y1="334.7" x2="192.6" y2="338.9"/><line x1="212.9" y1="334.7" x2="212.9" y2="342.5"/><line x1="233.2" y1="334.7" x2="233.2" y2="338.9"/><line x1="253.5" y1="334.7" x2="253.5" y2="342.5"/><line x1="50.5" y1="241.5" x2="50.5" y2="334.7"/><line x1="50.5" y1="334.7" x2="254.1" y2="334.7"/></g><g font-family="'Liberation Sans', sans-serif" font-size="12.5" letter-spacing="-0.4" fill="#333" stroke="#333" stroke-width="0.6"><text x="35.8" y="260.54" text-anchor="end">90</text><text x="35.8" y="287.03" text-anchor="end">70</text><text x="35.8" y="313.51" text-anchor="end">50</text><text x="35.8" y="340" text-anchor="end">30</text><text x="50.5" y="355" text-anchor="middle">0</text><text x="91.1" y="355" text-anchor="middle">2</text><text x="131.7" y="355" text-anchor="middle">4</text><text x="172.3" y="355" text-anchor="middle">6</text><text x="212.9" y="355" text-anchor="middle">8</text><text x="253.5" y="355" text-anchor="middle">10</text></g>
<g stroke="#222" stroke-width="2"><line x1="326.6" y1="334.7" x2="335.6" y2="334.7"/><line x1="331" y1="328.08" x2="335.6" y2="328.08"/><line x1="326.6" y1="321.46" x2="335.6" y2="321.46"/><line x1="331" y1="314.84" x2="335.6" y2="314.84"/><line x1="326.6" y1="308.21" x2="335.6" y2="308.21"/><line x1="331" y1="301.59" x2="335.6" y2="301.59"/><line x1="326.6" y1="294.97" x2="335.6" y2="294.97"/><line x1="331" y1="288.35" x2="335.6" y2="288.35"/><line x1="326.6" y1="281.73" x2="335.6" y2="281.73"/><line x1="331" y1="275.11" x2="335.6" y2="275.11"/><line x1="326.6" y1="268.49" x2="335.6" y2="268.49"/><line x1="331" y1="261.86" x2="335.6" y2="261.86"/><line x1="326.6" y1="255.24" x2="335.6" y2="255.24"/><line x1="331" y1="248.62" x2="335.6" y2="248.62"/><line x1="326.6" y1="242" x2="335.6" y2="242"/><line x1="335.6" y1="334.7" x2="335.6" y2="342.5"/><line x1="355.92" y1="334.7" x2="355.92" y2="338.9"/><line x1="376.24" y1="334.7" x2="376.24" y2="342.5"/><line x1="396.56" y1="334.7" x2="396.56" y2="338.9"/><line x1="416.88" y1="334.7" x2="416.88" y2="342.5"/><line x1="437.2" y1="334.7" x2="437.2" y2="338.9"/><line x1="457.52" y1="334.7" x2="457.52" y2="342.5"/><line x1="477.84" y1="334.7" x2="477.84" y2="338.9"/><line x1="498.16" y1="334.7" x2="498.16" y2="342.5"/><line x1="518.48" y1="334.7" x2="518.48" y2="338.9"/><line x1="538.8" y1="334.7" x2="538.8" y2="342.5"/><line x1="335.6" y1="241.5" x2="335.6" y2="334.7"/><line x1="335.6" y1="334.7" x2="539.4" y2="334.7"/></g><g font-family="'Liberation Sans', sans-serif" font-size="12.5" letter-spacing="-0.4" fill="#333" stroke="#333" stroke-width="0.6"><text x="321" y="260.54" text-anchor="end">90</text><text x="321" y="287.03" text-anchor="end">70</text><text x="321" y="313.51" text-anchor="end">50</text><text x="321" y="340" text-anchor="end">30</text><text x="335.6" y="354.8" text-anchor="middle">0</text><text x="376.24" y="354.8" text-anchor="middle">2</text><text x="416.88" y="354.8" text-anchor="middle">4</text><text x="457.52" y="354.8" text-anchor="middle">6</text><text x="498.16" y="354.8" text-anchor="middle">8</text><text x="538.8" y="354.8" text-anchor="middle">10</text></g>
<rect x="73.6" y="2.9" width="170.8" height="46.8" fill="#fff" stroke="#333" stroke-width="1.4"/>
<line x1="78.5" y1="16.8" x2="98.4" y2="16.8" stroke="#f60b0b" stroke-width="2.2"/>
<line x1="78.5" y1="37.6" x2="98.4" y2="37.6" stroke="#2a6f93" stroke-width="2.2"/>
<g font-family="'Liberation Serif', serif" font-weight="bold" font-size="12.6" fill="#000" stroke="#000" stroke-width="0.25"><text x="103.5" y="20.2">chamber pressure</text><text x="103.5" y="41.2">accumulator gas pressure</text></g>
<g font-family="'Liberation Serif', serif" font-weight="bold" font-size="10.6" fill="#000" stroke="#000" stroke-width="0.2"><text x="120.9" y="176.2">Time (s)</text><text x="421.8" y="176.2">Time (s)</text><text x="128.2" y="369.4">Time (s)</text><text x="422.9" y="369.4">Time (s)</text><text transform="translate(10.9,104.5) rotate(-90)" text-anchor="middle">Pressure (bar)</text><text transform="translate(295.9,101.4) rotate(-90)" text-anchor="middle">Pressure (bar)</text><text transform="translate(10.9,287.4) rotate(-90)" text-anchor="middle">Pressure (bar)</text><text transform="translate(295.9,288.5) rotate(-90)" text-anchor="middle">Pressure (bar)</text></g>
<g font-family="'Liberation Serif', serif" font-weight="bold" font-size="14.4" fill="#000" stroke="#000" stroke-width="0.3"><text x="36.6" y="198.6">Hydro-pneumatic rebound chamber</text><text x="326.8" y="199.2">Hydro-pneumatic rebound chamber</text><text x="62.6" y="385.3">Proposed rebound chamber</text><text x="352.9" y="385.3">Proposed rebound chamber</text></g>
</svg>
</body></html>
